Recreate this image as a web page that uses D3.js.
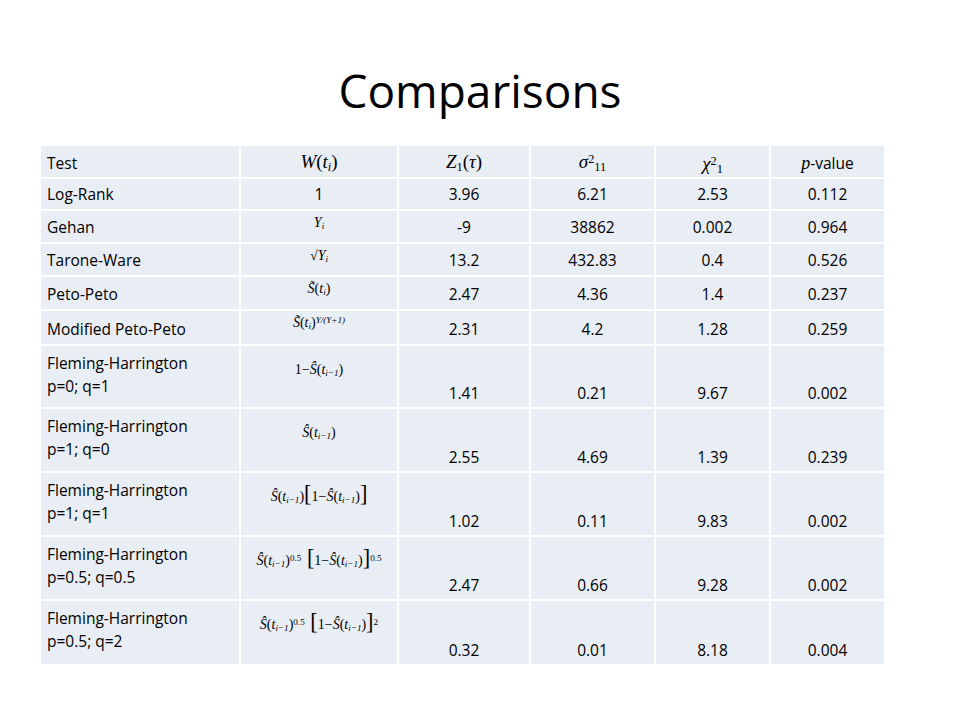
<!DOCTYPE html>
<html><head><meta charset="utf-8">
<script src="https://cdn.jsdelivr.net/npm/d3@7"></script>
<style>body{margin:0;background:#fff}</style></head>
<body><svg id="c" width="960" height="720"></svg>
<script>
const tests = ["Log-Rank","Gehan","Tarone-Ware","Peto-Peto","Modified Peto-Peto","Fleming-Harrington\np=0; q=1","Fleming-Harrington\np=1; q=0","Fleming-Harrington\np=1; q=1","Fleming-Harrington\np=0.5; q=0.5","Fleming-Harrington\np=0.5; q=2"];
const weights = ["1","Y_i","sqrt","S~","S~mod","1-S^","S^","S^[1-S^]","S^.5[1-S^].5","S^.5[1-S^]2"];
const z1 = ["3.96","-9","13.2","2.47","2.31","1.41","2.55","1.02","2.47","0.32"];
const sigma2 = ["6.21","38862","432.83","4.36","4.2","0.21","4.69","0.11","0.66","0.01"];
const chi2 = ["2.53","0.002","0.4","1.4","1.28","9.67","1.39","9.83","9.28","8.18"];
const pval = ["0.112","0.964","0.526","0.237","0.259","0.002","0.239","0.002","0.002","0.004"];
const rowBounds = [145,178,210,243,276,310,345,408,472,536,600,665];
const colBounds = [40,240,398,530,655,770,885];

const svg = d3.select("#c");
const F = "'Open Sans','Noto Sans',sans-serif", S = "'Liberation Serif','DejaVu Serif',serif";
svg.append("text").attr("x",480).attr("y",108).attr("text-anchor","middle")
  .attr("font-family",F).attr("font-size",46).attr("fill","#000").text("Comparisons");

const y = i => rowBounds[i], x = j => colBounds[j];
for (let i=0;i<rowBounds.length-1;i++) for (let j=0;j<colBounds.length-1;j++)
  svg.append("rect").attr("x",x(j)).attr("y",y(i)).attr("width",x(j+1)-x(j)).attr("height",y(i+1)-y(i))
    .attr("fill","#e9edf4").attr("stroke","#fff").attr("stroke-width",2);

function txt(t,cx,cy,anchor){
  const el = svg.append("text").attr("x",cx).attr("y",cy).attr("text-anchor",anchor||"middle")
    .attr("font-family",F).attr("font-size",15.5).attr("fill","#000");
  el.text(t); return el;
}
// header
txt("Test",47,169,"start");
function math(g,parts,size){ // parts: [text, style] style: i=italic, sub, sup
  const t = g.append("text").attr("font-family",S).attr("font-size",size||15).attr("fill","#000");
  parts.forEach(p=>{
    const ts=t.append("tspan").text(p[0]);
    if(p[1]&&p[1].includes("i")) ts.attr("font-style","italic");
    if(p[1]&&p[1].includes("b")) ts.attr("baseline-shift","-25%").attr("font-size",(size||15)*0.65);
    if(p[1]&&p[1].includes("p")) ts.attr("baseline-shift","45%").attr("font-size",(size||15)*0.65);
    if(p[1]&&p[1].includes("L")) ts.attr("font-size",(size||15)*1.6).attr("font-weight",100);
  });
  return t;
}
function centered(parts,cx,cy,size){
  const g=svg.append("g"); const t=math(g,parts,size);
  const w=t.node().getComputedTextLength(); t.attr("x",cx-w/2).attr("y",cy); return t;
}
const hc = j => (x(j)+x(j+1))/2;
centered([["W","i"],["("],["t","i"],["i","ib"],[")"]],hc(1),168,19);
centered([["Z","i"],["1","b"],["("],["τ","i"],[")"]],hc(2),168,19);
centered([["σ","i"],["2","p"],["11","b"]],hc(3),168,19);
centered([["χ","i"],["2","p"],["1","b"]],hc(4),170,19);
const ph=txt("",hc(5),169); ph.append("tspan").attr("font-family",S).attr("font-style","italic").attr("font-size",18).text("p"); ph.append("tspan").text("-value");

const wf = {
 "1":null,
 "Y_i":[["Y","i"],["i","ib"]],
 "sqrt":[["√"],["Y","i"],["i","ib"]],
 "S~":[["S̃","i"],["("],["t","i"],["i","ib"],[")"]],
 "S~mod":[["S̃","i"],["("],["t","i"],["i","ib"],[")"],["Y/(Y+1)","ip"]],
 "1-S^":[["1−"],["Ŝ","i"],["("],["t","i"],["i−1","ib"],[")"]],
 "S^":[["Ŝ","i"],["("],["t","i"],["i−1","ib"],[")"]],
 "S^[1-S^]":[["Ŝ","i"],["("],["t","i"],["i−1","ib"],[")"],["[","L"],["1−"],["Ŝ","i"],["("],["t","i"],["i−1","ib"],[")"],["]","L"]],
 "S^.5[1-S^].5":[["Ŝ","i"],["("],["t","i"],["i−1","ib"],[")"],["0.5","p"],[" [","L"],["1−"],["Ŝ","i"],["("],["t","i"],["i−1","ib"],[")"],["]","L"],["0.5","p"]],
 "S^.5[1-S^]2":[["Ŝ","i"],["("],["t","i"],["i−1","ib"],[")"],["0.5","p"],[" [","L"],["1−"],["Ŝ","i"],["("],["t","i"],["i−1","ib"],[")"],["]","L"],["2","p"]]
};
tests.forEach((t,i)=>{
  const r=i+1, top=y(r), bot=y(r+1), two=t.includes("\n");
  const by = two? bot-9 : bot-10;
  if(two){ const ls=t.split("\n"); txt(ls[0],47,top+24,"start"); txt(ls[1],47,top+47,"start"); }
  else txt(t,47,by,"start");
  const w=weights[i];
  if(wf[w]===null) txt("1",hc(1),by);
  else centered(wf[w], hc(1), two? top+29 : top+17, 14);
  txt(z1[i],hc(2),by); txt(sigma2[i],hc(3),by); txt(chi2[i],hc(4),by); txt(pval[i],hc(5),by);
});
</script></body></html>
